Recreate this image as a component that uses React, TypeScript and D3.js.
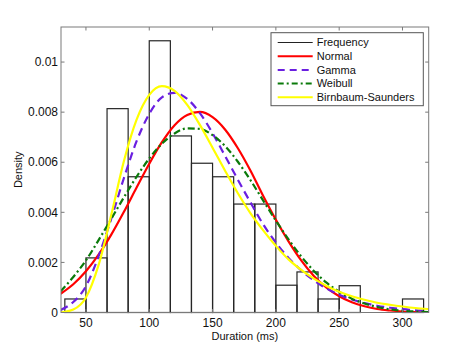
import React from "react";
import * as d3 from "d3";

// ---- data ----
const binEdges = [33.33, 50, 66.67, 83.33, 100, 116.67, 133.33, 150, 166.67, 183.33, 200, 216.67, 233.33, 250, 266.67, 283.33, 300, 316.67];
const binDensity = [0.00054, 0.00218, 0.00814, 0.00542, 0.01085, 0.00705, 0.00596, 0.00542, 0.00433, 0.00433, 0.00109, 0.00162, 0.00054, 0.00107, 0, 0, 0.00054];

const curveX = [30, 40, 50, 60, 70, 80, 90, 100, 110, 120, 130, 140, 150, 160, 170, 180, 190, 200, 210, 220, 230, 240, 250, 260, 270, 280, 290, 300, 310, 320, 330];
const normalY = [0.00075, 0.00113, 0.00165, 0.00231, 0.00311, 0.00402, 0.00499, 0.00594, 0.0068, 0.00748, 0.00789, 0.00801, 0.0078, 0.0073, 0.00656, 0.00566, 0.00465, 0.0037, 0.00284, 0.00208, 0.00146, 0.00099, 0.00065, 0.00041, 0.00025, 0.00014, 0.00008, 0.00004, 0.00002, 0.00001, 0.000005];
const gammaY = [0.0001, 0.00042, 0.00105, 0.00225, 0.00375, 0.00537, 0.00684, 0.00793, 0.00859, 0.00877, 0.00853, 0.00796, 0.00716, 0.00624, 0.0053, 0.00439, 0.00352, 0.00279, 0.00218, 0.00168, 0.00128, 0.00096, 0.00071, 0.00052, 0.00038, 0.00027, 0.00019, 0.00014, 0.00009, 0.00007, 0.000045];
const weibullY = [0.00085, 0.00142, 0.00208, 0.00289, 0.00374, 0.0046, 0.00542, 0.00615, 0.00674, 0.00715, 0.00735, 0.00733, 0.00708, 0.00664, 0.00602, 0.00528, 0.00447, 0.00367, 0.00292, 0.00224, 0.00166, 0.00119, 0.00083, 0.00055, 0.00036, 0.00022, 0.00013, 0.00007, 0.00004, 0.00002, 0.00001];
const bsY = [0.000005, 0.00012, 0.0006, 0.0019, 0.0039, 0.00605, 0.0077, 0.00869, 0.00904, 0.00885, 0.00829, 0.00749, 0.00658, 0.00565, 0.00476, 0.00396, 0.00328, 0.00266, 0.00212, 0.0017, 0.00135, 0.00106, 0.00083, 0.00065, 0.00051, 0.00039, 0.00031, 0.00024, 0.00018, 0.00014, 0.00011];

const xTicks = [50, 100, 150, 200, 250, 300];
const yTicks = [0, 0.002, 0.004, 0.006, 0.008, 0.01];
const yTickLabels = ["0", "0.002", "0.004", "0.006", "0.008", "0.01"];
const legendLabels = ["Frequency", "Normal", "Gamma", "Weibull", "Birnbaum-Saunders"];

const W = 474, H = 351;
const L = 61, R = 428.7, T = 27, B = 312.5;
const FONT = "'Liberation Sans', Arial, Helvetica, sans-serif";

export default function App() {
  const x = d3.scaleLinear().domain([30.3, 320.7]).range([L, R]);
  const y = d3.scaleLinear().domain([0, 0.0114]).range([B, T]);

  const mk = (ys: number[]) =>
    d3.line<number>().x((_, i) => x(curveX[i])).y((v) => y(v)).curve(d3.curveMonotoneX)(ys) || "";

  const curves = [
    { d: mk(normalY), color: "#ff0000", dash: undefined },
    { d: mk(gammaY), color: "#6a1fe0", dash: "8,5" },
    { d: mk(weibullY), color: "#0a7a0a", dash: "7,3,2,3" },
    { d: mk(bsY), color: "#ffff00", dash: undefined },
  ];
  // draw order: normal, gamma, weibull, BS (BS on top)
  const legendStyles = [
    { color: "#222", dash: undefined, w: 1.2 },
    { color: "#ff0000", dash: undefined, w: 2 },
    { color: "#6a1fe0", dash: "7,5", w: 2 },
    { color: "#0a7a0a", dash: "6,3,2,3", w: 2 },
    { color: "#ffff00", dash: undefined, w: 2 },
  ];

  const axisColor = "#7a7a7a";
  const tickLen = 3.5;

  return (
    <svg width={W} height={H} style={{ position: "absolute", left: 0, top: 0, background: "#fff" }} fontFamily={FONT}>
      <defs>
        <clipPath id="plot">
          <rect x={L} y={T} width={R - L} height={B - T} />
        </clipPath>
      </defs>
      <rect x={0} y={0} width={W} height={H} fill="#fff" />
      {/* bars */}
      <g>
        {binDensity.map((v, i) =>
          v > 0 ? (
            <rect
              key={i}
              x={x(binEdges[i])}
              y={y(v)}
              width={x(binEdges[i + 1] ?? binEdges[i] + 16.67) - x(binEdges[i])}
              height={B - y(v)}
              fill="none"
              stroke="#262626"
              strokeWidth={1.2}
            />
          ) : null
        )}
      </g>
      {/* curves */}
      <g clipPath="url(#plot)">
        {curves.map((c, i) => (
          <path key={i} d={c.d} fill="none" stroke={c.color} strokeWidth={2.2} strokeDasharray={c.dash} />
        ))}
      </g>
      {/* axes box */}
      <rect x={L} y={T} width={R - L} height={B - T} fill="none" stroke={axisColor} strokeWidth={1} />
      {xTicks.map((t) => (
        <g key={t}>
          <line x1={x(t)} x2={x(t)} y1={B} y2={B - tickLen} stroke={axisColor} />
          <line x1={x(t)} x2={x(t)} y1={T} y2={T + tickLen} stroke={axisColor} />
          <text x={x(t)} y={327} fontSize={12} textAnchor="middle" fill="#111">{t}</text>
        </g>
      ))}
      {yTicks.map((t, i) => (
        <g key={t}>
          <line x1={L} x2={L + tickLen} y1={y(t)} y2={y(t)} stroke={axisColor} />
          <line x1={R} x2={R - tickLen} y1={y(t)} y2={y(t)} stroke={axisColor} />
          <text x={58} y={y(t)} dy="0.35em" fontSize={12} textAnchor="end" fill="#111">{yTickLabels[i]}</text>
        </g>
      ))}
      <text x={(L + R) / 2} y={339.5} fontSize={11} textAnchor="middle" fill="#111">Duration (ms)</text>
      <text transform={`translate(22, ${(T + B) / 2}) rotate(-90)`} fontSize={11} textAnchor="middle" fill="#111">Density</text>
      {/* legend */}
      <g>
        <rect x={271} y={32.7} width={152.3} height={73} fill="#fff" stroke="#555" strokeWidth={1} />
        {legendLabels.map((lab, i) => {
          const cy = 42.5 + i * 13.7;
          const s = legendStyles[i];
          return (
            <g key={lab}>
              <line x1={277.7} x2={312.7} y1={cy} y2={cy} stroke={s.color} strokeWidth={s.w} strokeDasharray={s.dash} />
              <text x={316.7} y={cy} dy="0.35em" fontSize={11} fill="#111">{lab}</text>
            </g>
          );
        })}
      </g>
    </svg>
  );
}
